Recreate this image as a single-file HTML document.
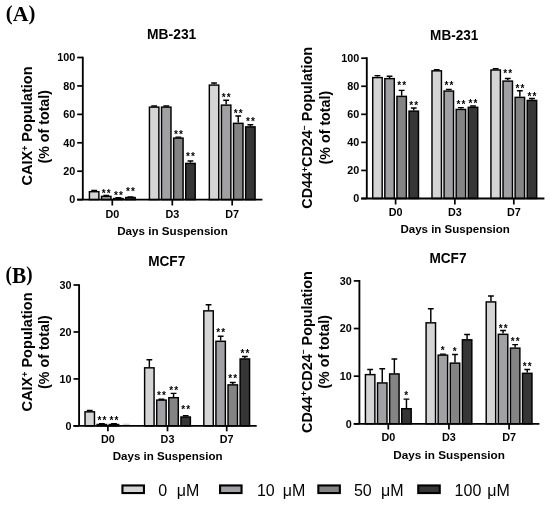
<!DOCTYPE html>
<html><head><meta charset="utf-8"><title>Figure</title>
<style>
html,body{margin:0;padding:0;background:#fff;}
body{width:550px;height:505px;overflow:hidden;}
svg{display:block;}
text{font-family:'Liberation Sans', Arial, Helvetica, sans-serif;fill:#000;}
.tk{font-size:10px;font-weight:bold;}
.tt{font-size:14px;font-weight:bold;}
.xt{font-size:11.5px;font-weight:bold;}
.yl{font-size:14.3px;font-weight:bold;}
.sup{font-size:8.5px;}
.yl2{font-size:14.5px;font-weight:bold;}
.st{font-size:10px;font-weight:bold;letter-spacing:1.1px;fill:#000;}
.lg{font-size:16px;font-weight:normal;}
.pl{font-family:'Liberation Serif', 'Times New Roman', serif;font-size:21px;font-weight:bold;}
</style></head>
<body>
<svg width="550" height="505" viewBox="0 0 550 505">
<rect width="550" height="505" fill="#fff"/>
<text x="5.8" y="20.6" class="pl" textLength="29.6" lengthAdjust="spacingAndGlyphs"><tspan dy="-1.1" style="font-size:20px">(</tspan><tspan dy="1.1">A</tspan><tspan dy="-1.1" style="font-size:20px">)</tspan></text>
<text x="5.6" y="282.5" class="pl" style="font-size:23px" textLength="26.9" lengthAdjust="spacingAndGlyphs"><tspan dy="-1.3" style="font-size:20.5px">(</tspan><tspan dy="1.3">B</tspan><tspan dy="-1.3" style="font-size:20.5px">)</tspan></text>
<rect x="89.42" y="191.7" width="9.45" height="7.95" fill="#d5d5d5" stroke="#000" stroke-width="1.45"/>
<path d="M94.15 190.98V190.42M91.25 190.42H97.05" stroke="#000" stroke-width="1.45" fill="none"/>
<rect x="101.52" y="196.39" width="9.45" height="3.26" fill="#a1a1a3" stroke="#000" stroke-width="1.45"/>
<path d="M106.25 195.67V195.4M103.35 195.4H109.15" stroke="#000" stroke-width="1.45" fill="none"/>
<text x="106.85" y="196.8" class="st" text-anchor="middle">**</text>
<rect x="113.62" y="198.53" width="9.45" height="1.12" fill="#848484" stroke="#000" stroke-width="1.45"/>
<path d="M118.35 197.8V197.82M115.45 197.82H121.25" stroke="#000" stroke-width="1.45" fill="none"/>
<text x="118.95" y="198.9" class="st" text-anchor="middle">**</text>
<rect x="125.72" y="197.53" width="9.45" height="2.12" fill="#363636" stroke="#000" stroke-width="1.45"/>
<path d="M130.45 196.81V196.96M127.55 196.96H133.35" stroke="#000" stroke-width="1.45" fill="none"/>
<text x="131.05" y="195.3" class="st" text-anchor="middle">**</text>
<rect x="149.43" y="107.12" width="9.45" height="92.53" fill="#d5d5d5" stroke="#000" stroke-width="1.45"/>
<path d="M154.15 106.4V105.99M151.25 105.99H157.05" stroke="#000" stroke-width="1.45" fill="none"/>
<rect x="161.53" y="107.12" width="9.45" height="92.53" fill="#a1a1a3" stroke="#000" stroke-width="1.45"/>
<path d="M166.25 106.4V105.99M163.35 105.99H169.15" stroke="#000" stroke-width="1.45" fill="none"/>
<rect x="173.63" y="138.11" width="9.45" height="61.54" fill="#848484" stroke="#000" stroke-width="1.45"/>
<path d="M178.35 137.39V137.12M175.45 137.12H181.25" stroke="#000" stroke-width="1.45" fill="none"/>
<text x="178.95" y="138.2" class="st" text-anchor="middle">**</text>
<rect x="185.73" y="163.42" width="9.45" height="36.23" fill="#363636" stroke="#000" stroke-width="1.45"/>
<path d="M190.45 162.69V161M187.55 161H193.35" stroke="#000" stroke-width="1.45" fill="none"/>
<text x="191.05" y="159.5" class="st" text-anchor="middle">**</text>
<rect x="209.32" y="85.09" width="9.45" height="114.56" fill="#d5d5d5" stroke="#000" stroke-width="1.45"/>
<path d="M214.05 84.37V82.96M211.15 82.96H216.95" stroke="#000" stroke-width="1.45" fill="none"/>
<rect x="221.42" y="105.13" width="9.45" height="94.52" fill="#a1a1a3" stroke="#000" stroke-width="1.45"/>
<path d="M226.15 104.41V100.3M223.25 100.3H229.05" stroke="#000" stroke-width="1.45" fill="none"/>
<text x="226.75" y="101.4" class="st" text-anchor="middle">**</text>
<rect x="233.53" y="123.33" width="9.45" height="76.32" fill="#848484" stroke="#000" stroke-width="1.45"/>
<path d="M238.25 122.6V115.94M235.35 115.94H241.15" stroke="#000" stroke-width="1.45" fill="none"/>
<text x="238.85" y="116.5" class="st" text-anchor="middle">**</text>
<rect x="245.62" y="126.88" width="9.45" height="72.77" fill="#363636" stroke="#000" stroke-width="1.45"/>
<path d="M250.35 126.16V124.75M247.45 124.75H253.25" stroke="#000" stroke-width="1.45" fill="none"/>
<text x="250.95" y="125" class="st" text-anchor="middle">**</text>
<path d="M82.8 56.65V199.65M77.2 199.65H262.4" stroke="#000" stroke-width="1.85" fill="none"/>
<path d="M77.2 199.65H82.8" stroke="#000" stroke-width="1.7"/>
<text x="75.2" y="203.45" class="tk" text-anchor="end" textLength="6" lengthAdjust="spacingAndGlyphs">0</text>
<path d="M77.2 171.22H82.8" stroke="#000" stroke-width="1.7"/>
<text x="75.2" y="175.02" class="tk" text-anchor="end" textLength="12" lengthAdjust="spacingAndGlyphs">20</text>
<path d="M77.2 142.79H82.8" stroke="#000" stroke-width="1.7"/>
<text x="75.2" y="146.59" class="tk" text-anchor="end" textLength="12" lengthAdjust="spacingAndGlyphs">40</text>
<path d="M77.2 114.36H82.8" stroke="#000" stroke-width="1.7"/>
<text x="75.2" y="118.16" class="tk" text-anchor="end" textLength="12" lengthAdjust="spacingAndGlyphs">60</text>
<path d="M77.2 85.93H82.8" stroke="#000" stroke-width="1.7"/>
<text x="75.2" y="89.73" class="tk" text-anchor="end" textLength="12" lengthAdjust="spacingAndGlyphs">80</text>
<path d="M77.2 57.5H82.8" stroke="#000" stroke-width="1.7"/>
<text x="75.2" y="61.3" class="tk" text-anchor="end" textLength="18" lengthAdjust="spacingAndGlyphs">100</text>
<path d="M112.3 199.65V205.5" stroke="#000" stroke-width="1.7"/>
<text x="112.3" y="217.6" class="tk" text-anchor="middle" textLength="13.8" lengthAdjust="spacingAndGlyphs">D0</text>
<path d="M172.3 199.65V205.5" stroke="#000" stroke-width="1.7"/>
<text x="172.3" y="217.6" class="tk" text-anchor="middle" textLength="13.8" lengthAdjust="spacingAndGlyphs">D3</text>
<path d="M232.2 199.65V205.5" stroke="#000" stroke-width="1.7"/>
<text x="232.2" y="217.6" class="tk" text-anchor="middle" textLength="13.8" lengthAdjust="spacingAndGlyphs">D7</text>
<text x="172.5" y="234.7" class="xt" text-anchor="middle" textLength="110.7" lengthAdjust="spacingAndGlyphs">Days in Suspension</text>
<text x="171.7" y="39.2" class="tt" text-anchor="middle" textLength="49.2" lengthAdjust="spacingAndGlyphs">MB-231</text>
<text transform="translate(32 126) rotate(-90)" class="yl" text-anchor="middle" textLength="119.2" lengthAdjust="spacingAndGlyphs">CAIX<tspan class="sup" dy="-4.5">+</tspan><tspan dy="4.5"> Population</tspan></text>
<text transform="translate(48.9 126.8) rotate(-90)" class="yl2" text-anchor="middle" textLength="73.6" lengthAdjust="spacingAndGlyphs">(% of total)</text>
<rect x="372.73" y="77.58" width="9.45" height="120.92" fill="#d5d5d5" stroke="#000" stroke-width="1.45"/>
<path d="M377.45 76.86V75.62M374.55 75.62H380.35" stroke="#000" stroke-width="1.45" fill="none"/>
<rect x="384.83" y="78.62" width="9.45" height="119.88" fill="#a1a1a3" stroke="#000" stroke-width="1.45"/>
<path d="M389.55 77.9V76.18M386.65 76.18H392.45" stroke="#000" stroke-width="1.45" fill="none"/>
<rect x="396.93" y="96.39" width="9.45" height="102.11" fill="#848484" stroke="#000" stroke-width="1.45"/>
<path d="M401.65 95.66V90.35M398.75 90.35H404.55" stroke="#000" stroke-width="1.45" fill="none"/>
<text x="402.25" y="88.6" class="st" text-anchor="middle">**</text>
<rect x="409.03" y="111.12" width="9.45" height="87.38" fill="#363636" stroke="#000" stroke-width="1.45"/>
<path d="M413.75 110.39V108.03M410.85 108.03H416.65" stroke="#000" stroke-width="1.45" fill="none"/>
<text x="414.35" y="108.6" class="st" text-anchor="middle">**</text>
<rect x="431.98" y="70.85" width="9.45" height="127.65" fill="#d5d5d5" stroke="#000" stroke-width="1.45"/>
<path d="M436.7 70.13V69.73M433.8 69.73H439.6" stroke="#000" stroke-width="1.45" fill="none"/>
<rect x="444.08" y="91.05" width="9.45" height="107.45" fill="#a1a1a3" stroke="#000" stroke-width="1.45"/>
<path d="M448.8 90.33V89.37M445.9 89.37H451.7" stroke="#000" stroke-width="1.45" fill="none"/>
<text x="449.4" y="88.7" class="st" text-anchor="middle">**</text>
<rect x="456.18" y="109.43" width="9.45" height="89.07" fill="#848484" stroke="#000" stroke-width="1.45"/>
<path d="M460.9 108.71V107.61M458 107.61H463.8" stroke="#000" stroke-width="1.45" fill="none"/>
<text x="461.5" y="107.8" class="st" text-anchor="middle">**</text>
<rect x="468.28" y="107.33" width="9.45" height="91.17" fill="#363636" stroke="#000" stroke-width="1.45"/>
<path d="M473 106.6V105.93M470.1 105.93H475.9" stroke="#000" stroke-width="1.45" fill="none"/>
<text x="473.6" y="106.8" class="st" text-anchor="middle">**</text>
<rect x="490.93" y="70.01" width="9.45" height="128.49" fill="#d5d5d5" stroke="#000" stroke-width="1.45"/>
<path d="M495.65 69.28V68.75M492.75 68.75H498.55" stroke="#000" stroke-width="1.45" fill="none"/>
<rect x="503.02" y="81.09" width="9.45" height="117.41" fill="#a1a1a3" stroke="#000" stroke-width="1.45"/>
<path d="M507.75 80.37V78.43M504.85 78.43H510.65" stroke="#000" stroke-width="1.45" fill="none"/>
<text x="508.35" y="76.8" class="st" text-anchor="middle">**</text>
<rect x="515.12" y="97.37" width="9.45" height="101.13" fill="#848484" stroke="#000" stroke-width="1.45"/>
<path d="M519.85 96.64V90.77M516.95 90.77H522.75" stroke="#000" stroke-width="1.45" fill="none"/>
<text x="520.45" y="91.6" class="st" text-anchor="middle">**</text>
<rect x="527.22" y="100.45" width="9.45" height="98.05" fill="#363636" stroke="#000" stroke-width="1.45"/>
<path d="M531.95 99.73V98.49M529.05 98.49H534.85" stroke="#000" stroke-width="1.45" fill="none"/>
<text x="532.55" y="99.6" class="st" text-anchor="middle">**</text>
<path d="M366.8 57.35V198.5M361.2 198.5H544.4" stroke="#000" stroke-width="1.85" fill="none"/>
<path d="M361.2 198.5H366.8" stroke="#000" stroke-width="1.7"/>
<text x="359.2" y="202.3" class="tk" text-anchor="end" textLength="6" lengthAdjust="spacingAndGlyphs">0</text>
<path d="M361.2 170.44H366.8" stroke="#000" stroke-width="1.7"/>
<text x="359.2" y="174.24" class="tk" text-anchor="end" textLength="12" lengthAdjust="spacingAndGlyphs">20</text>
<path d="M361.2 142.38H366.8" stroke="#000" stroke-width="1.7"/>
<text x="359.2" y="146.18" class="tk" text-anchor="end" textLength="12" lengthAdjust="spacingAndGlyphs">40</text>
<path d="M361.2 114.32H366.8" stroke="#000" stroke-width="1.7"/>
<text x="359.2" y="118.12" class="tk" text-anchor="end" textLength="12" lengthAdjust="spacingAndGlyphs">60</text>
<path d="M361.2 86.26H366.8" stroke="#000" stroke-width="1.7"/>
<text x="359.2" y="90.06" class="tk" text-anchor="end" textLength="12" lengthAdjust="spacingAndGlyphs">80</text>
<path d="M361.2 58.2H366.8" stroke="#000" stroke-width="1.7"/>
<text x="359.2" y="62" class="tk" text-anchor="end" textLength="18" lengthAdjust="spacingAndGlyphs">100</text>
<path d="M395.6 198.5V204.5" stroke="#000" stroke-width="1.7"/>
<text x="395.6" y="216.1" class="tk" text-anchor="middle" textLength="13.8" lengthAdjust="spacingAndGlyphs">D0</text>
<path d="M454.85 198.5V204.5" stroke="#000" stroke-width="1.7"/>
<text x="454.85" y="216.1" class="tk" text-anchor="middle" textLength="13.8" lengthAdjust="spacingAndGlyphs">D3</text>
<path d="M513.8 198.5V204.5" stroke="#000" stroke-width="1.7"/>
<text x="513.8" y="216.1" class="tk" text-anchor="middle" textLength="13.8" lengthAdjust="spacingAndGlyphs">D7</text>
<text x="455.15" y="232.7" class="xt" text-anchor="middle" textLength="109.4" lengthAdjust="spacingAndGlyphs">Days in Suspension</text>
<text x="454.2" y="40.1" class="tt" text-anchor="middle" textLength="48.2" lengthAdjust="spacingAndGlyphs">MB-231</text>
<text transform="translate(312.3 127.8) rotate(-90)" class="yl" text-anchor="middle" textLength="161.8" lengthAdjust="spacingAndGlyphs">CD44<tspan class="sup" dy="-4.5">+</tspan><tspan dy="4.5">CD24</tspan><tspan class="sup" dy="-5.5">−</tspan><tspan dy="5.5"> Population</tspan></text>
<text transform="translate(329.9 127.6) rotate(-90)" class="yl2" text-anchor="middle" textLength="73.6" lengthAdjust="spacingAndGlyphs">(% of total)</text>
<rect x="85.02" y="411.83" width="9.45" height="14.07" fill="#d5d5d5" stroke="#000" stroke-width="1.45"/>
<path d="M89.75 411.11V410.42M86.85 410.42H92.65" stroke="#000" stroke-width="1.45" fill="none"/>
<rect x="97.12" y="424.51" width="9.45" height="1.39" fill="#a1a1a3" stroke="#000" stroke-width="1.45"/>
<path d="M101.85 423.79V423.81M98.95 423.81H104.75" stroke="#000" stroke-width="1.45" fill="none"/>
<text x="102.45" y="423.7" class="st" text-anchor="middle">**</text>
<rect x="109.22" y="424.51" width="9.45" height="1.39" fill="#848484" stroke="#000" stroke-width="1.45"/>
<path d="M113.95 423.79V423.81M111.05 423.81H116.85" stroke="#000" stroke-width="1.45" fill="none"/>
<text x="114.55" y="423.7" class="st" text-anchor="middle">**</text>
<rect x="144.62" y="367.82" width="9.45" height="58.08" fill="#d5d5d5" stroke="#000" stroke-width="1.45"/>
<path d="M149.35 367.1V359.65M146.45 359.65H152.25" stroke="#000" stroke-width="1.45" fill="none"/>
<rect x="156.72" y="400.09" width="9.45" height="25.81" fill="#a1a1a3" stroke="#000" stroke-width="1.45"/>
<path d="M161.45 399.36V399.2M158.55 399.2H164.35" stroke="#000" stroke-width="1.45" fill="none"/>
<text x="162.05" y="398.9" class="st" text-anchor="middle">**</text>
<rect x="168.83" y="397.69" width="9.45" height="28.21" fill="#848484" stroke="#000" stroke-width="1.45"/>
<path d="M173.55 396.97V393.37M170.65 393.37H176.45" stroke="#000" stroke-width="1.45" fill="none"/>
<text x="174.15" y="393.9" class="st" text-anchor="middle">**</text>
<rect x="180.93" y="417" width="9.45" height="8.9" fill="#363636" stroke="#000" stroke-width="1.45"/>
<path d="M185.65 416.27V415.82M182.75 415.82H188.55" stroke="#000" stroke-width="1.45" fill="none"/>
<text x="186.25" y="412.9" class="st" text-anchor="middle">**</text>
<rect x="203.82" y="310.85" width="9.45" height="115.05" fill="#d5d5d5" stroke="#000" stroke-width="1.45"/>
<path d="M208.55 310.13V304.65M205.65 304.65H211.45" stroke="#000" stroke-width="1.45" fill="none"/>
<rect x="215.92" y="341.29" width="9.45" height="84.61" fill="#a1a1a3" stroke="#000" stroke-width="1.45"/>
<path d="M220.65 340.56V336.31M217.75 336.31H223.55" stroke="#000" stroke-width="1.45" fill="none"/>
<text x="221.25" y="335.7" class="st" text-anchor="middle">**</text>
<rect x="228.03" y="384.87" width="9.45" height="41.03" fill="#848484" stroke="#000" stroke-width="1.45"/>
<path d="M232.75 384.15V382.48M229.85 382.48H235.65" stroke="#000" stroke-width="1.45" fill="none"/>
<text x="233.35" y="382.2" class="st" text-anchor="middle">**</text>
<rect x="240.12" y="358.95" width="9.45" height="66.95" fill="#363636" stroke="#000" stroke-width="1.45"/>
<path d="M244.85 358.22V356.5M241.95 356.5H247.75" stroke="#000" stroke-width="1.45" fill="none"/>
<text x="245.45" y="357.3" class="st" text-anchor="middle">**</text>
<path d="M79.1 284.15V425.9M73.5 425.9H256.7" stroke="#000" stroke-width="1.85" fill="none"/>
<path d="M73.5 425.9H79.1" stroke="#000" stroke-width="1.7"/>
<text x="71.5" y="429.7" class="tk" text-anchor="end" textLength="6" lengthAdjust="spacingAndGlyphs">0</text>
<path d="M73.5 378.93H79.1" stroke="#000" stroke-width="1.7"/>
<text x="71.5" y="382.73" class="tk" text-anchor="end" textLength="12" lengthAdjust="spacingAndGlyphs">10</text>
<path d="M73.5 331.97H79.1" stroke="#000" stroke-width="1.7"/>
<text x="71.5" y="335.77" class="tk" text-anchor="end" textLength="12" lengthAdjust="spacingAndGlyphs">20</text>
<path d="M73.5 285H79.1" stroke="#000" stroke-width="1.7"/>
<text x="71.5" y="288.8" class="tk" text-anchor="end" textLength="12" lengthAdjust="spacingAndGlyphs">30</text>
<path d="M107.9 425.9V431.3" stroke="#000" stroke-width="1.7"/>
<text x="107.9" y="442.8" class="tk" text-anchor="middle" textLength="13.8" lengthAdjust="spacingAndGlyphs">D0</text>
<path d="M167.5 425.9V431.3" stroke="#000" stroke-width="1.7"/>
<text x="167.5" y="442.8" class="tk" text-anchor="middle" textLength="13.8" lengthAdjust="spacingAndGlyphs">D3</text>
<path d="M226.7 425.9V431.3" stroke="#000" stroke-width="1.7"/>
<text x="226.7" y="442.8" class="tk" text-anchor="middle" textLength="13.8" lengthAdjust="spacingAndGlyphs">D7</text>
<text x="167.65" y="460.3" class="xt" text-anchor="middle" textLength="109.8" lengthAdjust="spacingAndGlyphs">Days in Suspension</text>
<text x="166.75" y="266.3" class="tt" text-anchor="middle" textLength="37.1" lengthAdjust="spacingAndGlyphs">MCF7</text>
<text transform="translate(32.1 351.95) rotate(-90)" class="yl" text-anchor="middle" textLength="119.2" lengthAdjust="spacingAndGlyphs">CAIX<tspan class="sup" dy="-4.5">+</tspan><tspan dy="4.5"> Population</tspan></text>
<text transform="translate(48.9 352.1) rotate(-90)" class="yl2" text-anchor="middle" textLength="73.6" lengthAdjust="spacingAndGlyphs">(% of total)</text>
<rect x="365.43" y="374.61" width="9.45" height="49.19" fill="#d5d5d5" stroke="#000" stroke-width="1.45"/>
<path d="M370.15 373.88V369.51M367.25 369.51H373.05" stroke="#000" stroke-width="1.45" fill="none"/>
<rect x="377.53" y="382.94" width="9.45" height="40.86" fill="#a1a1a3" stroke="#000" stroke-width="1.45"/>
<path d="M382.25 382.22V368.84M379.35 368.84H385.15" stroke="#000" stroke-width="1.45" fill="none"/>
<rect x="389.63" y="373.94" width="9.45" height="49.86" fill="#848484" stroke="#000" stroke-width="1.45"/>
<path d="M394.35 373.21V358.93M391.45 358.93H397.25" stroke="#000" stroke-width="1.45" fill="none"/>
<rect x="401.73" y="408.71" width="9.45" height="15.09" fill="#363636" stroke="#000" stroke-width="1.45"/>
<path d="M406.45 407.99V399.14M403.55 399.14H409.35" stroke="#000" stroke-width="1.45" fill="none"/>
<text x="406.75" y="398.5" class="st" text-anchor="middle">*</text>
<rect x="426.08" y="322.83" width="9.45" height="100.97" fill="#d5d5d5" stroke="#000" stroke-width="1.45"/>
<path d="M430.8 322.1V308.73M427.9 308.73H433.7" stroke="#000" stroke-width="1.45" fill="none"/>
<rect x="438.18" y="355.12" width="9.45" height="68.68" fill="#a1a1a3" stroke="#000" stroke-width="1.45"/>
<path d="M442.9 354.4V354.12M440 354.12H445.8" stroke="#000" stroke-width="1.45" fill="none"/>
<text x="443.2" y="353.5" class="st" text-anchor="middle">*</text>
<rect x="450.28" y="363.13" width="9.45" height="60.67" fill="#848484" stroke="#000" stroke-width="1.45"/>
<path d="M455 362.4V354.41M452.1 354.41H457.9" stroke="#000" stroke-width="1.45" fill="none"/>
<text x="455.3" y="354.6" class="st" text-anchor="middle">*</text>
<rect x="462.38" y="339.83" width="9.45" height="83.97" fill="#363636" stroke="#000" stroke-width="1.45"/>
<path d="M467.1 339.11V334.4M464.2 334.4H470" stroke="#000" stroke-width="1.45" fill="none"/>
<rect x="486.23" y="301.92" width="9.45" height="121.88" fill="#d5d5d5" stroke="#000" stroke-width="1.45"/>
<path d="M490.95 301.19V295.91M488.05 295.91H493.85" stroke="#000" stroke-width="1.45" fill="none"/>
<rect x="498.33" y="334.31" width="9.45" height="89.49" fill="#a1a1a3" stroke="#000" stroke-width="1.45"/>
<path d="M503.05 333.58V330.5M500.15 330.5H505.95" stroke="#000" stroke-width="1.45" fill="none"/>
<text x="503.65" y="331.6" class="st" text-anchor="middle">**</text>
<rect x="510.43" y="348.12" width="9.45" height="75.68" fill="#848484" stroke="#000" stroke-width="1.45"/>
<path d="M515.15 347.4V344.6M512.25 344.6H518.05" stroke="#000" stroke-width="1.45" fill="none"/>
<text x="515.75" y="344.5" class="st" text-anchor="middle">**</text>
<rect x="522.52" y="373.32" width="9.45" height="50.48" fill="#363636" stroke="#000" stroke-width="1.45"/>
<path d="M527.25 372.59V369.41M524.35 369.41H530.15" stroke="#000" stroke-width="1.45" fill="none"/>
<text x="527.85" y="369.9" class="st" text-anchor="middle">**</text>
<path d="M359.4 280.05V423.8M353.8 423.8H539.4" stroke="#000" stroke-width="1.85" fill="none"/>
<path d="M353.8 423.8H359.4" stroke="#000" stroke-width="1.7"/>
<text x="351.8" y="427.6" class="tk" text-anchor="end" textLength="6" lengthAdjust="spacingAndGlyphs">0</text>
<path d="M353.8 376.17H359.4" stroke="#000" stroke-width="1.7"/>
<text x="351.8" y="379.97" class="tk" text-anchor="end" textLength="12" lengthAdjust="spacingAndGlyphs">10</text>
<path d="M353.8 328.53H359.4" stroke="#000" stroke-width="1.7"/>
<text x="351.8" y="332.33" class="tk" text-anchor="end" textLength="12" lengthAdjust="spacingAndGlyphs">20</text>
<path d="M353.8 280.9H359.4" stroke="#000" stroke-width="1.7"/>
<text x="351.8" y="284.7" class="tk" text-anchor="end" textLength="12" lengthAdjust="spacingAndGlyphs">30</text>
<path d="M388.3 423.8V429.5" stroke="#000" stroke-width="1.7"/>
<text x="388.3" y="441.1" class="tk" text-anchor="middle" textLength="13.8" lengthAdjust="spacingAndGlyphs">D0</text>
<path d="M448.95 423.8V429.5" stroke="#000" stroke-width="1.7"/>
<text x="448.95" y="441.1" class="tk" text-anchor="middle" textLength="13.8" lengthAdjust="spacingAndGlyphs">D3</text>
<path d="M509.1 423.8V429.5" stroke="#000" stroke-width="1.7"/>
<text x="509.1" y="441.1" class="tk" text-anchor="middle" textLength="13.8" lengthAdjust="spacingAndGlyphs">D7</text>
<text x="449.05" y="458.6" class="xt" text-anchor="middle" textLength="111.6" lengthAdjust="spacingAndGlyphs">Days in Suspension</text>
<text x="448" y="262.5" class="tt" text-anchor="middle" textLength="37.1" lengthAdjust="spacingAndGlyphs">MCF7</text>
<text transform="translate(311.5 352) rotate(-90)" class="yl" text-anchor="middle" textLength="161.8" lengthAdjust="spacingAndGlyphs">CD44<tspan class="sup" dy="-4.5">+</tspan><tspan dy="4.5">CD24</tspan><tspan class="sup" dy="-5.5">−</tspan><tspan dy="5.5"> Population</tspan></text>
<text transform="translate(329.3 351.9) rotate(-90)" class="yl2" text-anchor="middle" textLength="73.6" lengthAdjust="spacingAndGlyphs">(% of total)</text>
<rect x="123.2" y="423.7" width="6.2" height="1.1" fill="#c4c4c4"/>
<rect x="122.45" y="485.45" width="21.5" height="7.6" fill="#d5d5d5" stroke="#000" stroke-width="2.1"/>
<text x="158.2" y="495.6" class="lg">0</text>
<text x="176.8" y="495.6" class="lg">μM</text>
<rect x="220.05" y="485.45" width="21.5" height="7.6" fill="#a1a1a3" stroke="#000" stroke-width="2.1"/>
<text x="256.9" y="495.6" class="lg">10</text>
<text x="282.7" y="495.6" class="lg">μM</text>
<rect x="318.35" y="485.45" width="21.5" height="7.6" fill="#848484" stroke="#000" stroke-width="2.1"/>
<text x="353.9" y="495.6" class="lg">50</text>
<text x="381.1" y="495.6" class="lg">μM</text>
<rect x="418.25" y="485.45" width="21.5" height="7.6" fill="#363636" stroke="#000" stroke-width="2.1"/>
<text x="454.6" y="495.6" class="lg">100</text>
<text x="487.2" y="495.6" class="lg">μM</text>
</svg>
</body></html>
